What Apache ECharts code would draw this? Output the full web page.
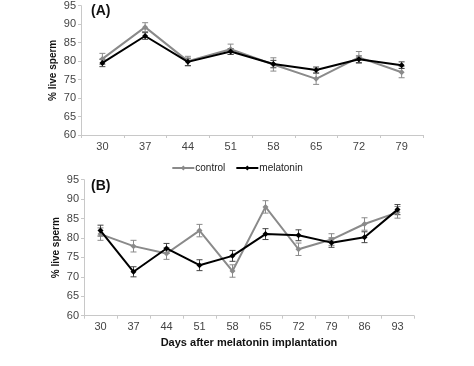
<!DOCTYPE html>
<html><head><meta charset="utf-8">
<script src="https://cdn.jsdelivr.net/npm/echarts@6/dist/echarts.min.js"></script>
<style>html,body{margin:0;padding:0;background:#fff}#c{width:474px;height:366px}</style>
</head><body><div id="c"></div>
<script>
const daysA = ['30','37','44','51','58','65','72','79'];
const controlA = [80.6, 89.2, 80.0, 83.2, 79.1, 75.2, 81.0, 77.0];
const controlA_se = [1.5, 1.2, 1.3, 1.4, 1.8, 1.5, 1.6, 1.5];
const melatoninA = [79.5, 86.8, 79.8, 82.6, 79.2, 77.6, 80.5, 78.9];
const melatoninA_se = [1.0, 0.9, 1.0, 0.8, 1.0, 0.8, 0.9, 0.9];

const daysB = ['30','37','44','51','58','65','72','79','86','93'];
const controlB = [81.0, 77.9, 76.0, 81.9, 71.5, 88.0, 77.1, 79.6, 83.6, 86.6];
const controlB_se = [1.6, 1.5, 1.5, 1.6, 1.6, 1.6, 1.6, 1.5, 1.6, 1.5];
const melatoninB = [81.9, 71.3, 77.3, 73.0, 75.4, 81.0, 80.7, 78.8, 80.2, 87.3];
const melatoninB_se = [1.4, 1.3, 1.3, 1.4, 1.4, 1.4, 1.4, 1.2, 1.4, 1.3];

const yTicks = [60, 65, 70, 75, 80, 85, 90, 95];

const GRAY = '#8a8a8a', BLACK = '#000000';
const FONT = 'Liberation Sans, Arial, sans-serif';

function errData(vals, se) { return vals.map((v, i) => [i, v - se[i], v + se[i]]); }
function errSeries(axisIdx, vals, se, color) {
  return {
    type: 'custom', xAxisIndex: axisIdx, yAxisIndex: axisIdx, z: 1, silent: true,
    data: errData(vals, se),
    renderItem: function (params, api) {
      const x = api.value(0);
      const lo = api.coord([x, api.value(1)]);
      const hi = api.coord([x, api.value(2)]);
      const w = 3;
      const st = { stroke: color, lineWidth: 1 };
      return { type: 'group', children: [
        { type: 'line', shape: { x1: lo[0], y1: lo[1], x2: hi[0], y2: hi[1] }, style: st },
        { type: 'line', shape: { x1: lo[0] - w, y1: lo[1], x2: lo[0] + w, y2: lo[1] }, style: st },
        { type: 'line', shape: { x1: hi[0] - w, y1: hi[1], x2: hi[0] + w, y2: hi[1] }, style: st }
      ] };
    }
  };
}
function lineSeries(name, axisIdx, vals, color, z) {
  return {
    name: name, type: 'line', xAxisIndex: axisIdx, yAxisIndex: axisIdx, z: z,
    data: vals, symbol: 'diamond', symbolSize: 6, showSymbol: true,
    lineStyle: { color: color, width: 2 }, itemStyle: { color: color },
    emphasis: { disabled: true }, animation: false
  };
}
function xAxis(idx, cats, name) {
  return {
    type: 'category', gridIndex: idx, data: cats, boundaryGap: true,
    axisLine: { lineStyle: { color: '#c8c8c8', width: 1 } },
    axisTick: { show: true, length: 3, lineStyle: { color: '#c8c8c8' } },
    axisLabel: { color: '#444', fontSize: 11, fontFamily: FONT, margin: 6 },
    name: name || '', nameLocation: 'middle', nameGap: 22,
    nameTextStyle: { color: '#111', fontSize: 11, fontWeight: 'bold', fontFamily: FONT }
  };
}
function yAxis(idx) {
  return {
    type: 'value', gridIndex: idx, min: 60, max: 95, interval: 5,
    axisLine: { show: true, lineStyle: { color: '#c8c8c8', width: 1 } },
    axisTick: { show: true, length: 3, lineStyle: { color: '#c8c8c8' } },
    splitLine: { show: false },
    axisLabel: { color: '#444', fontSize: 11, fontFamily: FONT, margin: 5,
      formatter: v => yTicks.includes(v) ? String(v) : '' },
    name: '% live sperm', nameLocation: 'middle', nameGap: 23, nameMoveOverlap: false,
    nameTextStyle: { color: '#111', fontSize: 10, fontWeight: 'bold', fontFamily: FONT }
  };
}

const chart = echarts.init(document.getElementById('c'), null, { renderer: 'canvas' });
chart.setOption({
  animation: false,
  backgroundColor: '#fff',
  grid: [
    { left: 81, width: 342, top: 5.7, height: 129.3 },
    { left: 84, width: 330, top: 179.7, height: 136 }
  ],
  legend: {
    top: 158, left: 'center', itemGap: 10, itemWidth: 22, itemHeight: 6,
    textStyle: { fontSize: 10, fontFamily: FONT, color: '#222', padding: [0, 0, 0, -4] },
    data: ['control', 'melatonin']
  },
  xAxis: [xAxis(0, daysA), xAxis(1, daysB, 'Days after melatonin implantation')],
  yAxis: [yAxis(0), yAxis(1)],
  graphic: [
    { type: 'text', left: 91, top: 4, style: { text: '(A)', font: 'bold 14px ' + FONT, fill: '#111' } },
    { type: 'text', left: 91, top: 179, style: { text: '(B)', font: 'bold 14px ' + FONT, fill: '#111' } }
  ],
  series: [
    errSeries(0, controlA, controlA_se, GRAY),
    errSeries(0, melatoninA, melatoninA_se, '#444'),
    lineSeries('control', 0, controlA, GRAY, 2),
    lineSeries('melatonin', 0, melatoninA, BLACK, 3),
    errSeries(1, controlB, controlB_se, GRAY),
    errSeries(1, melatoninB, melatoninB_se, '#444'),
    lineSeries('control', 1, controlB, GRAY, 2),
    lineSeries('melatonin', 1, melatoninB, BLACK, 3)
  ]
});
</script></body></html>
